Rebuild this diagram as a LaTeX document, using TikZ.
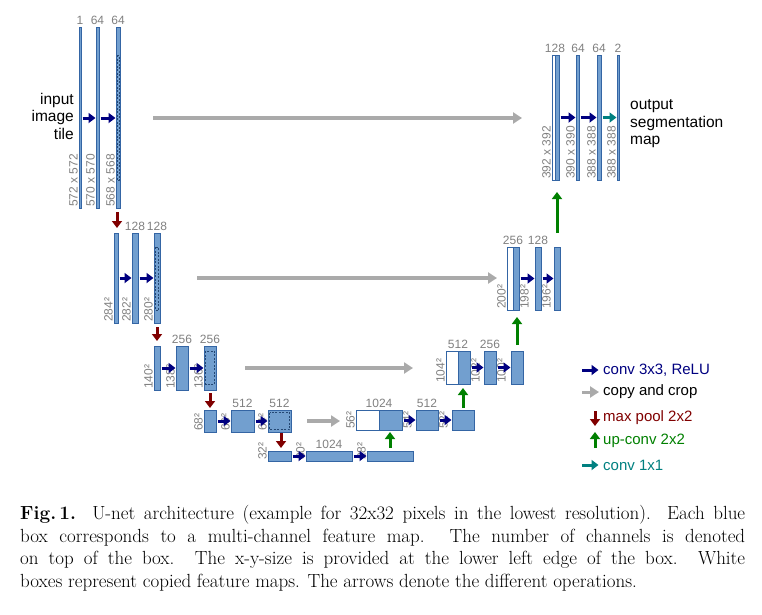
\documentclass[tikz,border=0pt]{standalone}
\usepackage{fontspec}
\newfontfamily\sans{Liberation Sans}
\usetikzlibrary{arrows.meta,calc}
\definecolor{fmfill}{RGB}{114,159,207}
\definecolor{fmdraw}{RGB}{52,101,164}
\definecolor{navyc}{RGB}{0,0,128}
\definecolor{redc}{RGB}{128,0,0}
\definecolor{greenc}{RGB}{0,128,0}
\definecolor{tealc}{RGB}{0,128,128}
\definecolor{grayc}{RGB}{170,170,170}
\definecolor{labc}{RGB}{128,128,128}
\tikzset{
 fm/.style={draw=fmdraw,fill=fmfill,line width=1pt,inner sep=0,outer sep=0},
 fmw/.style={draw=fmdraw,fill=white,line width=1pt,inner sep=0,outer sep=0},
 dsh/.style={draw=fmdraw!70!black,dashed,line width=0.8pt,dash pattern=on 2pt off 1.5pt},
 conv/.style={navyc,line width=3pt,-{Triangle[length=7pt,width=10pt]},shorten <=1.5pt,shorten >=0.5pt},
 conv1/.style={conv,tealc},
 copyc/.style={grayc,line width=4pt,-{Triangle[length=9pt,width=11pt]}},
 pool/.style={redc,line width=3pt,-{Triangle[length=7pt,width=10pt]}},
 upc/.style={greenc,line width=3pt,-{Triangle[length=7pt,width=10pt]}},
 ch/.style={text=labc,font=\sans\fontsize{12}{13}\selectfont,inner sep=0,anchor=base},
 sz/.style={text=labc,font=\sans\fontsize{12}{13}\selectfont,inner sep=1pt,rotate=90,anchor=south west},
 szr/.style={sz,anchor=north west},
 lg/.style={font=\sans\fontsize{15}{17}\selectfont,anchor=west,inner sep=0},
}
\newcommand\fmbox[6]{\node[#6,minimum width={(#4-#2)*1pt},minimum height={(#5-#3)*1pt}] (#1) at ({(#2+#4)/2},{(#3+#5)/2}) {};}
\begin{document}
\begin{tikzpicture}[x=1pt,y=-1pt]
\useasboundingbox (0,0) rectangle (762,614);
% level 1 down
\fmbox{a1}{79}{27}{81}{208}{fm}
\fmbox{a2}{96}{27}{99}{208}{fm}
\fmbox{a3}{116}{27}{120}{208}{fm}
\draw[dsh] (117,55) rectangle (119,180);
\node[ch] at (80,24) {1};\node[ch] at (97.5,24) {64};\node[ch] at (118,24) {64};
\node[sz] at (a1.south west) {572 x 572};
\node[sz] at (a2.south west) {570 x 570};
\node[sz] at (a3.south west) {568 x 568};
\node[font=\sans\fontsize{15.5}{17.5}\selectfont,align=right,anchor=east,inner sep=0] (inp) at (74,116) {input\\image\\tile};
\draw[conv] (a1.east|-0,118) -- (a2.west|-0,118);
\draw[conv] (a2.east|-0,118) -- (a3.west|-0,118);
% level 2 down
\fmbox{b1}{114}{233}{118}{323}{fm}
\fmbox{b2}{132}{233}{138}{323}{fm}
\fmbox{b3}{154}{233}{160}{323}{fm}
\draw[dsh] (155.5,247) rectangle (158.5,310);
\node[ch] at (135,230) {128};\node[ch] at (157,230) {128};
\node[sz] at (b1.south west) {284²};
\node[sz] at (b2.south west) {282²};
\node[sz] at (b3.south west) {280²};
\draw[conv] (b1) -- (b2);\draw[conv] (b2) -- (b3);
\draw[pool] (117,212) -- (117,228);
% level 3 down
\fmbox{c1}{154}{346}{160}{390}{fm}
\fmbox{c2}{176}{346}{188}{390}{fm}
\fmbox{c3}{204}{346}{216}{390}{fm}
\draw[dsh] (205.5,351) rectangle (214.5,384);
\node[ch] at (182,343) {256};\node[ch] at (210,343) {256};
\node[sz] at (c1.south west) {140²};
\node[sz] at (c2.south west) {138²};
\node[sz] at (c3.south west) {136²};
\draw[conv] (c1) -- (c2);\draw[conv] (c2) -- (c3);
\draw[pool] (157,327) -- (157,341);
% level 4 down
\fmbox{d1}{204}{410}{216}{432}{fm}
\fmbox{d2}{231}{410}{254}{432}{fm}
\fmbox{d3}{268}{410}{291}{432}{fm}
\draw[dsh] (269.5,412.5) rectangle (289.5,429.5);
\node[ch] at (242.5,407) {512};\node[ch] at (279.5,407) {512};
\node[sz] at (d1.south west) {68²};
\node[sz] at (d2.south west) {66²};
\node[sz] at (d3.south west) {64²};
\draw[conv] (d1) -- (d2);\draw[conv] (d2) -- (d3);
\draw[pool] (210,393) -- (210,408);
% level 5
\fmbox{e1}{268}{451}{291}{461}{fm}
\fmbox{e2}{306}{451}{352}{461}{fm}
\fmbox{e3}{367}{451}{413}{461}{fm}
\node[ch] at (329,448) {1024};
\node[sz] at (e1.south west) {32²};
\node[sz] at (e2.south west) {30²};
\node[sz] at (e3.south west) {28²};
\draw[conv] (e1) -- (e2);\draw[conv] (e2) -- (e3);
\draw[pool] (281,433) -- (281,448);
% level 4 up
\fmbox{f0}{356}{410}{379}{430}{fmw}
\fmbox{f1}{379}{410}{402}{430}{fm}
\fmbox{f2}{416}{410}{438}{430}{fm}
\fmbox{f3}{452}{410}{474}{430}{fm}
\node[ch] at (379,407) {1024};\node[ch] at (427,407) {512};
\node[sz] at (f0.south west) {56²};
\node[szr] at (f1.south east) {54²};
\node[szr] at (f2.south east) {52²};
\draw[conv] (f1) -- (f2);\draw[conv] (f2) -- (f3);
\draw[upc] (390,448) -- (390,432);
% level 3 up
\fmbox{g0}{446}{351}{458}{384}{fmw}
\fmbox{g1}{458}{351}{470}{384}{fm}
\fmbox{g2}{484}{351}{496}{384}{fm}
\fmbox{g3}{511}{351}{523}{384}{fm}
\node[ch] at (458,348) {512};\node[ch] at (490,348) {256};
\node[sz] at (g0.south west) {104²};
\node[szr] at (g1.south east) {102²};
\node[szr] at (g2.south east) {100²};
\draw[conv] (g1) -- (g2);\draw[conv] (g2) -- (g3);
\draw[upc] (463,408) -- (463,388);
% level 2 up
\fmbox{h0}{507}{247}{513}{310}{fmw}
\fmbox{h1}{513}{247}{519}{310}{fm}
\fmbox{h2}{535}{247}{541}{310}{fm}
\fmbox{h3}{554}{247}{560}{310}{fm}
\node[ch] at (513,244) {256};\node[ch] at (538,244) {128};
\node[sz] at (h0.south west) {200²};
\node[szr] at (h1.south east) {198²};
\node[szr] at (h2.south east) {196²};
\draw[conv] (h1) -- (h2);\draw[conv] (h2) -- (h3);
\draw[upc] (517,345) -- (517,317);
% level 1 up
\fmbox{k0}{552}{55}{555}{180}{fmw}
\fmbox{k1}{555}{55}{559}{180}{fm}
\fmbox{k2}{576}{55}{579}{180}{fm}
\fmbox{k3}{597}{55}{601}{180}{fm}
\fmbox{k4}{617}{55}{619}{180}{fm}
\node[ch] at (555,52) {128};\node[ch] at (578,52) {64};\node[ch] at (599,52) {64};\node[ch] at (618,52) {2};
\node[sz] at (k0.south west) {392 x 392};
\node[sz] at (k2.south west) {390 x 390};
\node[sz] at (k3.south west) {388 x 388};
\node[sz] at (k4.south west) {388 x 388};
\draw[conv] (k1) -- (k2);\draw[conv] (k2) -- (k3);\draw[conv1] (k3) -- (k4);
\draw[upc] (557,233) -- (557,192);
\node[font=\sans\fontsize{15.5}{17.5}\selectfont,align=left,anchor=west,inner sep=0] (outp) at (630,124) {output\\segmentation\\map};
% copy and crop
\draw[copyc] ($(a3.east|-0,118)+(33,0)$) -- ($(k0.west|-0,118)+(-30,0)$);
\draw[copyc] ($(b3.east)+(37,0)$) -- ($(h0.west|-b3.east)+(-10,0)$);
\draw[copyc] ($(c3.east)+(29,0)$) -- ($(g0.west|-c3.east)+(-33,0)$);
\draw[copyc] ($(d3.east)+(16,0)$) -- ($(f0.west|-d3.east)+(-16,0)$);
% legend
\draw[conv,shorten <=0pt] (582,370) -- ++(17,0);
\node[lg,text=navyc] at (603,370) {conv 3x3, ReLU};
\draw[copyc,line width=3pt] (582,392) -- ++(17,0);
\node[lg] at (603,392) {copy and crop};
\draw[pool] (595,411) -- (595,426);
\node[lg,text=redc] at (603,418) {max pool 2x2};
\draw[upc] (595,448) -- (595,432);
\node[lg,text=greenc] at (603,441) {up-conv 2x2};
\draw[conv1,shorten <=0pt] (582,465) -- ++(17,0);
\node[lg,text=tealc] at (603,465) {conv 1x1};
% caption
\node[anchor=north west,inner sep=0,text width=725pt,align=justify,font=\fontsize{19}{22.6}\selectfont] (cap) at (20,505)
{\textbf{Fig.\,1.} U-net architecture (example for 32x32 pixels in the lowest resolution). Each blue\linebreak box corresponds to a multi-channel feature map. The number of channels is denoted\linebreak on top of the box. The x-y-size is provided at the lower left edge of the box. White\linebreak boxes represent copied feature maps. The arrows denote the different operations.};
\end{tikzpicture}
\end{document}
